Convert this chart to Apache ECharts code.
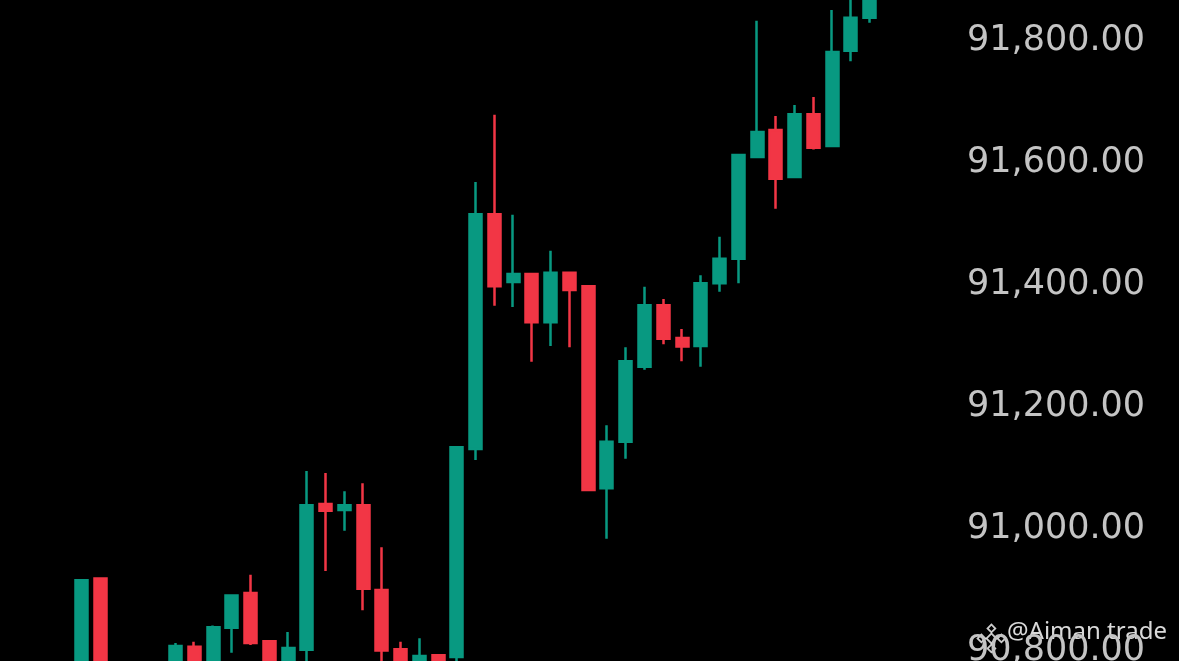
<!DOCTYPE html>
<html>
<head>
<meta charset="utf-8">
<style>
html,body{margin:0;padding:0;background:#000;}
#chart{width:1179px;height:661px;}
</style>
<script src="https://cdn.jsdelivr.net/npm/echarts@6/dist/echarts.min.js"></script>
</head>
<body>
<div id="chart"></div>
<script>
// Candle data (price units)
const opens  = [90700, 90919, 90720, 90690, 90730, 90770, 90807, 90775, 90838, 90895, 90816, 90770, 90802, 91041, 91031, 91039, 90900, 90803, 90770, 90793, 90790, 91131, 91516, 91405, 91418, 91339, 91420, 91398, 91067, 91143, 91266, 91367, 91313, 91300, 91403, 91443, 91610, 91654, 91577, 91680, 91628, 91784, 91838];
const closes = [90916, 90700, 90690, 90730, 90760, 90808, 90770, 90839, 90891, 90813, 90760, 90805, 91039, 91030, 91039, 90902, 90801, 90775, 90792, 90770, 91134, 91516, 91398, 91418, 91339, 91420, 91392, 91064, 91143, 91275, 91367, 91312, 91299, 91403, 91443, 91613, 91651, 91574, 91680, 91625, 91782, 91838, 91900];
const lows   = [90690, 90680, 90670, 90660, 90710, 90760, 90760, 90770, 90797, 90810, 90750, 90765, 90770, 90931, 90997, 90867, 90770, 90760, 90760, 90760, 90775, 91113, 91366, 91364, 91274, 91300, 91298, 91062, 90984, 91115, 91261, 91303, 91275, 91266, 91389, 91403, 91608, 91525, 91575, 91622, 91626, 91767, 91830];
const highs  = [90918, 90921, 90740, 90750, 90775, 90813, 90815, 90842, 90893, 90925, 90818, 90831, 91095, 91092, 91062, 91075, 90970, 90815, 90821, 90795, 91136, 91569, 91679, 91515, 91419, 91456, 91421, 91400, 91170, 91298, 91397, 91377, 91328, 91416, 91479, 91615, 91833, 91677, 91695, 91708, 91851, 91875, 91920];
const categories = opens.map((_, i) => String(i + 1));
const yTicks = [90600, 92000, 200]; // min, max, interval

const candleData = opens.map((o, i) => [o, closes[i], lows[i], highs[i]]);

const chart = echarts.init(document.getElementById('chart'), null, {renderer: 'canvas'});
const wm = 'rgba(255,255,255,0.8)';
function dia(cx, cy, s, fill) {
  return {type: 'rect', shape: {x: -s/2, y: -s/2, width: s, height: s}, x: cx, y: cy, rotation: Math.PI/4,
          style: {fill: fill ? wm : 'none', stroke: wm, lineWidth: 1.8}};
}
chart.setOption({
  backgroundColor: '#000000',
  animation: false,
  grid: {left: 72.3, width: 806.7, top: -81, height: 854, containLabel: false, outerBoundsMode: 'none'},
  xAxis: {
    type: 'category',
    data: categories,
    boundaryGap: true,
    show: false
  },
  yAxis: {
    type: 'value',
    position: 'right',
    min: yTicks[0],
    max: yTicks[1],
    interval: yTicks[2],
    splitLine: {show: false},
    axisLine: {show: false},
    axisTick: {show: false},
    axisLabel: {
      margin: 88,
      align: 'left',
      color: '#c4c4c4',
      fontFamily: 'DejaVu Sans',
      fontSize: 35,
      padding: [6, 0, 0, 0],
      formatter: v => v.toLocaleString('en-US', {minimumFractionDigits: 2, maximumFractionDigits: 2})
    }
  },
  series: [{
    type: 'candlestick',
    data: candleData,
    barWidth: 12.5,
    clip: true,
    itemStyle: {
      color: '#089981',
      color0: '#F23645',
      borderColor: '#089981',
      borderColor0: '#F23645',
      borderWidth: 2.5
    }
  }],
  graphic: [
    {
      type: 'group',
      left: 974, top: 621,
      children: [
        dia(14, 14, 7, false),
        dia(14, 4, 5.5, false),
        dia(14, 24, 5.5, false),
        dia(4, 14, 5.5, false),
        dia(24, 14, 5.5, false)
      ]
    },
    {
      type: 'text',
      left: 1007, top: 620,
      style: {text: '@Aiman trade', fill: 'rgba(255,255,255,0.85)', font: '24px "Noto Sans"'}
    }
  ]
});
</script>
</body>
</html>
